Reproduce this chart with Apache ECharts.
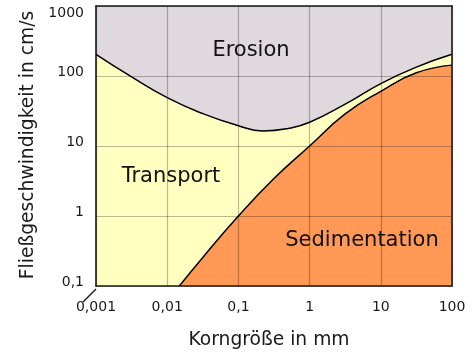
<!DOCTYPE html>
<html>
<head>
<meta charset="utf-8">
<script src="https://cdn.jsdelivr.net/npm/echarts@6/dist/echarts.min.js"></script>
<style>html,body{margin:0;padding:0;background:#fff}#c{width:474px;height:355px}</style>
</head>
<body>
<div id="c"></div>
<script>
// Grain size (mm) and critical velocity (cm/s)
const erosionX = [0.001, 0.00316, 0.01, 0.0316, 0.1, 0.22, 0.5, 1, 3.16, 10, 31.6, 100];
const erosionY = [204, 97, 49, 29, 19.5, 16.4, 17.8, 21.8, 39.7, 78, 134, 204];
const sedimentX = [0.0148, 0.0316, 0.1, 0.316, 1, 3.16, 10, 31.6, 100];
const sedimentY = [0.1, 0.256, 1.0, 3.43, 10, 28.7, 60.5, 111, 143];
const xTickLabels = ['0,001', '0,01', '0,1', '1', '10', '100'];
const yTickLabels = ['0,1', '1', '10', '100', '1000'];
const regionNames = ['Erosion', 'Transport', 'Sedimentation'];
const xTitle = 'Korngröße in mm';
const yTitle = 'Fließgeschwindigkeit in cm/s';

const FONT = 'DejaVu Sans';
const erosionData = erosionX.map((x, i) => [x, erosionY[i]]);
const sedimentData = sedimentX.map((x, i) => [x, sedimentY[i]]);

const chart = echarts.init(document.getElementById('c'), null, {renderer: 'canvas'});
const borderLine = {color: '#1a1a1a', width: 1.6};
chart.setOption({
  animation: false,
  grid: {left: 96, right: 22, top: 6, bottom: 66, show: true, backgroundColor: '#dfd8dc', borderWidth: 0},
  xAxis: [{
    type: 'log', logBase: 10, min: 0.001, max: 100, splitNumber: 5, z: 3,
    axisLine: {show: true, onZero: false, lineStyle: borderLine},
    axisTick: {show: false},
    splitLine: {show: true, lineStyle: {color: 'rgba(0,0,0,0.27)', width: 1.2}},
    axisLabel: {
      margin: 14, fontFamily: FONT, fontSize: 14, color: '#1a1a1a',
      formatter: v => xTickLabels[Math.round(Math.log10(v)) + 3]
    },
    name: xTitle, nameLocation: 'middle', nameGap: 45,
    nameTextStyle: {fontFamily: FONT, fontSize: 18.7, color: '#1a1a1a', padding: [0, 10, 0, 0]}
  }, {
    type: 'log', logBase: 10, min: 0.001, max: 100, position: 'top', z: 5,
    axisLine: {show: true, onZero: false, lineStyle: borderLine},
    axisTick: {show: false}, axisLabel: {show: false}, splitLine: {show: false}
  }],
  yAxis: [{
    type: 'log', logBase: 10, min: 0.1, max: 1000, splitNumber: 4, z: 3,
    axisLine: {show: true, onZero: false, lineStyle: borderLine},
    axisTick: {show: false},
    splitLine: {show: true, lineStyle: {color: 'rgba(0,0,0,0.27)', width: 1.2}},
    axisLabel: {
      margin: 12, fontFamily: FONT, fontSize: 14, color: '#1a1a1a',
      formatter: v => {
        const i = Math.round(Math.log10(v)) + 1;
        return i === yTickLabels.length - 1 ? '{t|' + yTickLabels[i] + '}' : '{b|' + yTickLabels[i] + '}';
      },
      rich: {
        t: {fontFamily: FONT, fontSize: 14, color: '#1a1a1a', padding: [14, 0, 0, 0]},
        b: {fontFamily: FONT, fontSize: 14, color: '#1a1a1a', padding: [0, 0, 8, 0]}
      }
    },
    name: yTitle, nameLocation: 'middle', nameGap: 58, nameRotate: 90,
    nameTextStyle: {fontFamily: FONT, fontSize: 18.7, color: '#1a1a1a', padding: [0, 0, 0, 2]}
  }, {
    type: 'log', logBase: 10, min: 0.1, max: 1000, position: 'right', z: 5,
    axisLine: {show: true, onZero: false, lineStyle: borderLine},
    axisTick: {show: false}, axisLabel: {show: false}, splitLine: {show: false}
  }],
  series: [
    {type: 'line', data: erosionData, smooth: 0.5, symbol: 'none', z: 1,
     lineStyle: {width: 0}, areaStyle: {color: '#ffffc0', opacity: 1, origin: 'start'}},
    {type: 'line', data: sedimentData, smooth: 0.5, symbol: 'none', z: 1,
     lineStyle: {width: 0}, areaStyle: {color: '#ff9955', opacity: 1, origin: 'start'}},
    {type: 'line', data: erosionData, smooth: 0.5, symbol: 'none', z: 4,
     lineStyle: {color: '#000', width: 1.5}},
    {type: 'line', data: sedimentData, smooth: 0.5, symbol: 'none', z: 4,
     lineStyle: {color: '#000', width: 1.5}}
  ],
  graphic: [
    {type: 'text', x: 251, y: 51, style: {text: regionNames[0], fontFamily: FONT, fontSize: 21, fill: '#111', align: 'center', verticalAlign: 'middle'}, z: 10},
    {type: 'text', x: 171, y: 177, style: {text: regionNames[1], fontFamily: FONT, fontSize: 21, fill: '#111', align: 'center', verticalAlign: 'middle'}, z: 10},
    {type: 'text', x: 362, y: 241, style: {text: regionNames[2], fontFamily: FONT, fontSize: 21, fill: '#111', align: 'center', verticalAlign: 'middle'}, z: 10},
    {type: 'line', shape: {x1: 96, y1: 289, x2: 83, y2: 302}, style: {stroke: '#1a1a1a', lineWidth: 1.4}, z: 10}
  ]
});
</script>
</body>
</html>
